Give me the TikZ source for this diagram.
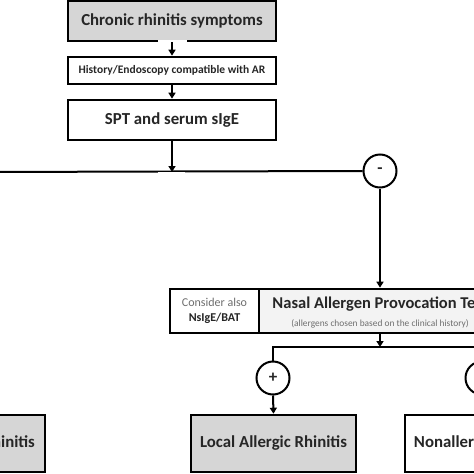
\documentclass[tikz,border=0pt]{standalone}
\usepackage{fontspec}
\setmainfont{Carlito}
\usetikzlibrary{arrows.meta}

\definecolor{kastengrau}{HTML}{D6D6D6}
\definecolor{hellgrau}{HTML}{F3F3F3}
\definecolor{textgrau}{HTML}{6E6E6E}
\definecolor{schrift}{HTML}{262626}

\tikzset{
	kasten/.style={draw=black, line width=2.6pt, inner sep=0pt, text=schrift,
		font=\fontsize{16.8}{18}\selectfont\bfseries},
	kreis/.style={draw=black, circle, line width=2pt, fill=white,
		minimum size=33pt, inner sep=0pt, text=schrift,
		font=\fontsize{17}{18}\selectfont\bfseries},
	pfeil/.style={line width=2pt, -{Triangle[width=7pt,length=6pt]}},
	linie/.style={line width=2pt},
}

\begin{document}
\begin{tikzpicture}[x=1pt, y=-1pt]
	\useasboundingbox (0,0) rectangle (474,474);
	\clip (0,0) rectangle (474,474);

	% Kaesten oben
	\node[kasten, fill=kastengrau, minimum width=208pt, minimum height=40pt]
		(symptome) at (172, 21) {Chronic rhinitis symptoms};
	\node[kasten, fill=white, minimum width=208pt, minimum height=27pt,
		font=\fontsize{11.5}{13}\selectfont\bfseries]
		(anamnese) at (172, 70.5) {History/Endoscopy compatible with AR};
	\node[kasten, fill=white, minimum width=208pt, minimum height=40pt]
		(spt) at (172, 120) {SPT and serum sIgE};

	% Verzweigung
	\node[kreis] (minus) at (380, 171) {-};
	\coordinate (links) at (-19, 172);
	\coordinate (treffer) at (172, 172);
	\draw[linie] (links) -- (minus.west);
	\draw[white, line width=0.8pt] (158, 172) -- (185, 172);
	\draw[white, line width=1.4pt] (158, 41) -- (187, 41);
	\draw[pfeil] (symptome.south) -- (anamnese.north);
	\draw[pfeil] (anamnese.south) -- (spt.north);
	\draw[pfeil] (spt.south) -- (treffer);

	% Provokationstest
	\node[kasten, fill=white, minimum width=89pt, minimum height=44pt,
		align=center, font=\fontsize{12}{14}\selectfont]
		(auch) at (214.5, 311)
		{\textcolor{textgrau}{Consider also}\\[0.5pt]\textbf{NsIgE/BAT}};
	\node[kasten, fill=hellgrau, minimum width=242pt, minimum height=44pt,
		align=center, font=\fontsize{16.5}{17}\selectfont\bfseries]
		(napt) at (380, 311)
		{\rule{0pt}{15pt}Nasal Allergen Provocation Test\\[1pt]
		{\fontsize{9.4}{10}\selectfont\mdseries\color{textgrau}(allergens chosen based on the clinical history)}};
	\draw[pfeil] (minus.south) -- (napt.north);

	% Ergebnisse
	\coordinate (gabel) at (380, 347);
	\node[kreis] (plus) at (273, 378) {+};
	\node[kreis] (nein) at (482, 378) {-};
	\draw[pfeil] (napt.south) -- (gabel);
	\draw[linie] (plus.north) |- (gabel) -| (nein.north);

	\node[kasten, fill=kastengrau, minimum width=128pt, minimum height=57pt]
		(ar) at (-19, 443.5) {Allergic Rhinitis};
	\node[kasten, fill=kastengrau, minimum width=165pt, minimum height=57pt]
		(lar) at (273.5, 443.5) {Local Allergic Rhinitis};
	\node[kasten, fill=white, minimum width=153pt, minimum height=57pt]
		(nar) at (481.5, 443.5) {Nonallergic Rhinitis};
	\draw[pfeil] (plus.south) -- (lar.north);
	\draw[pfeil] (nein.south) -- (nar.north);
\end{tikzpicture}
\end{document}
